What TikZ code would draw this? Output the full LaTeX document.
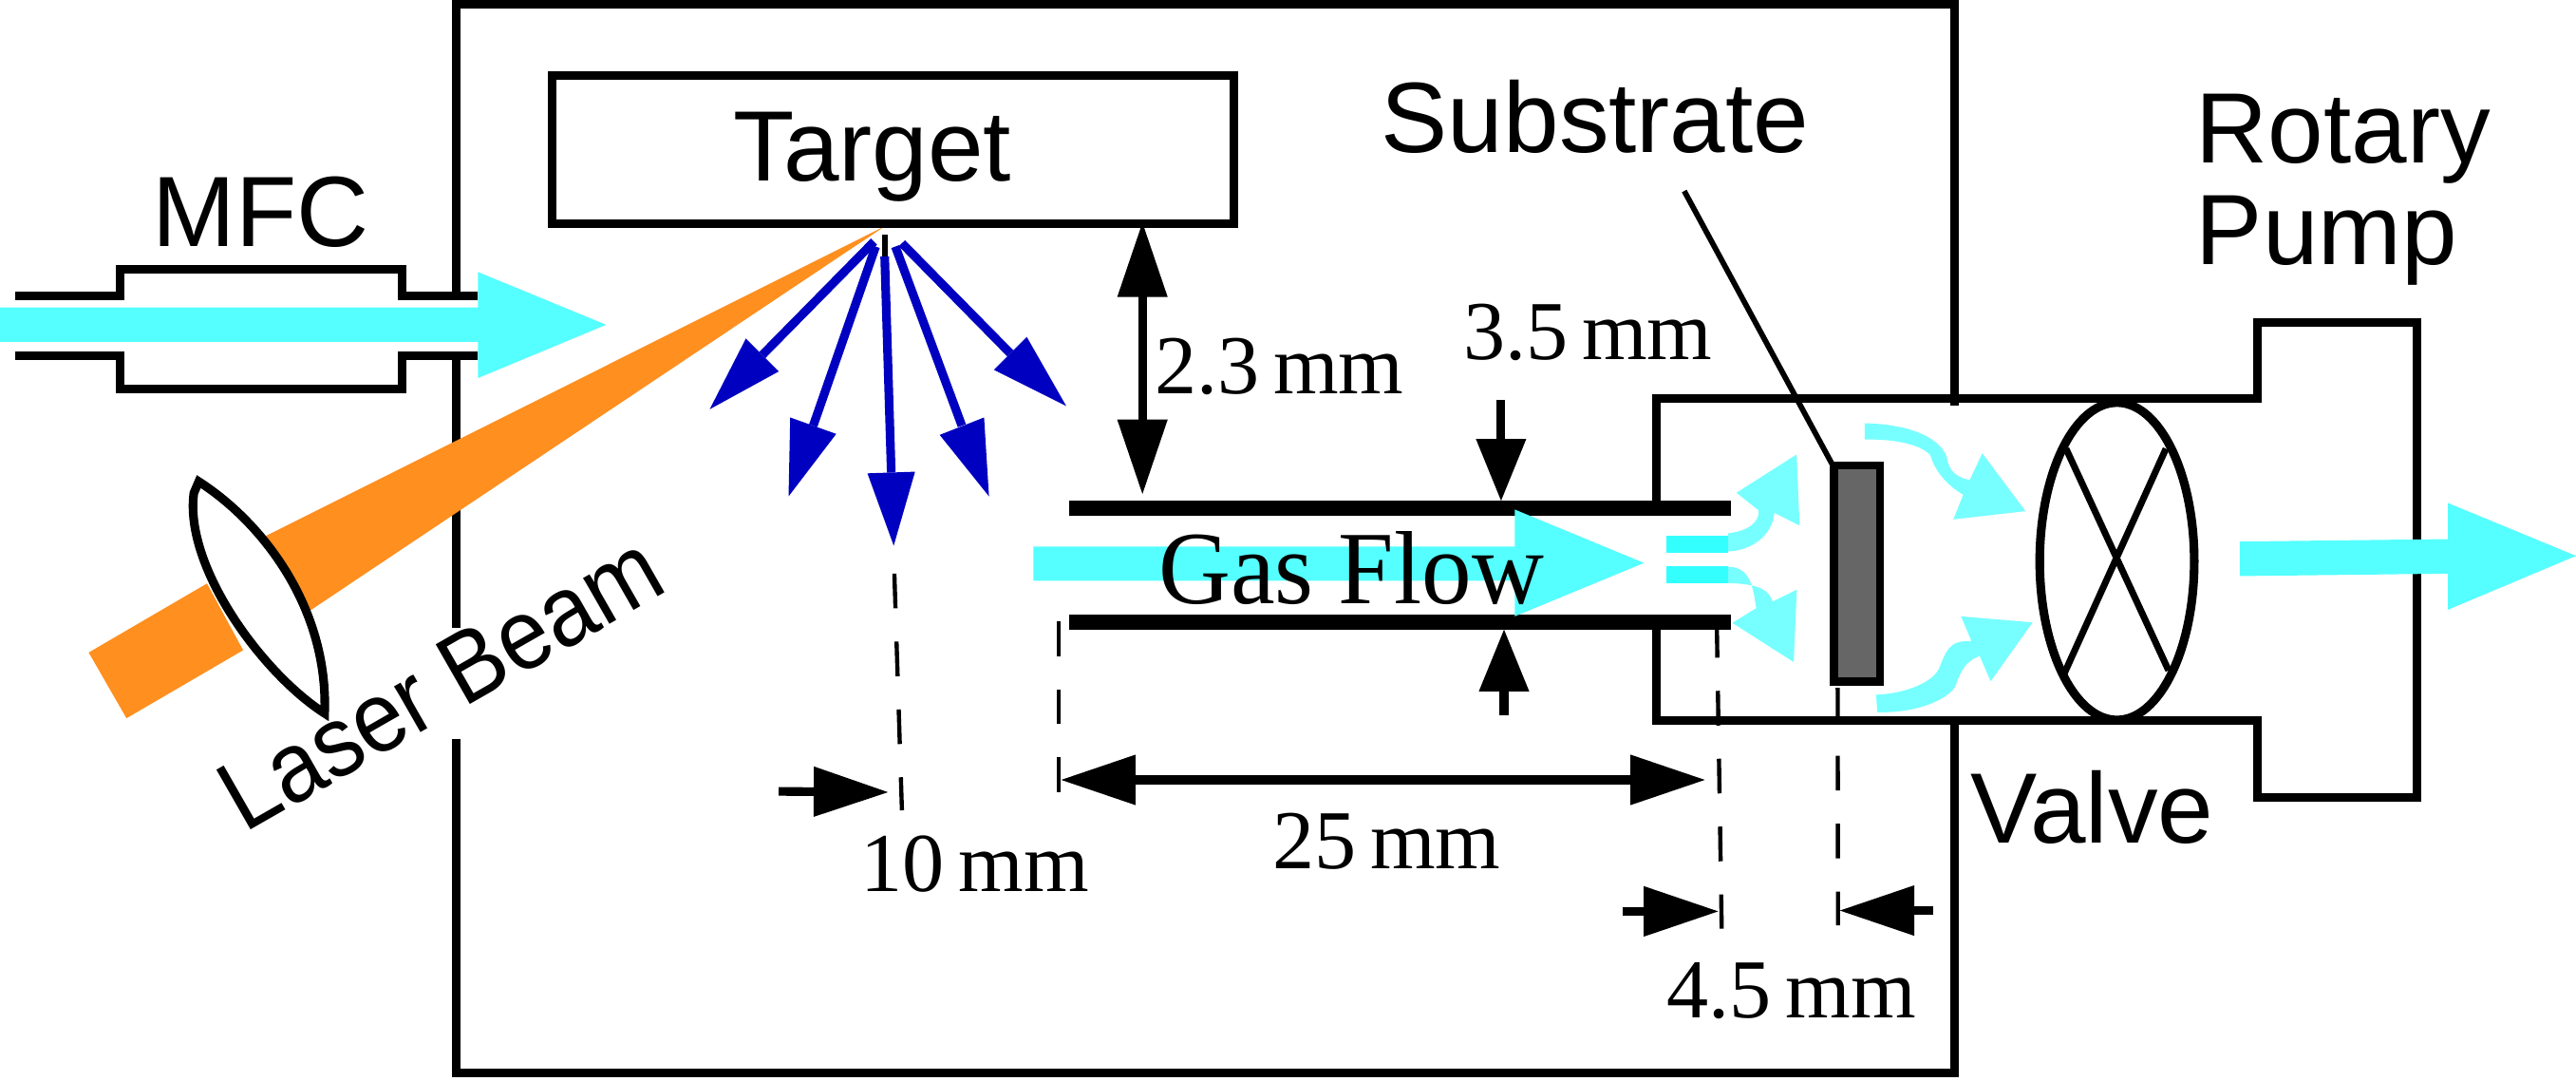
\documentclass[tikz,border=0pt]{standalone}
\usepackage{fontspec}
\setmainfont{Liberation Serif}
\setsansfont{Liberation Sans}
\usetikzlibrary{arrows.meta,shapes.geometric}
\definecolor{flow}{HTML}{55FFFF}
\definecolor{flowlight}{HTML}{77FFFF}
\definecolor{flowbar}{HTML}{33FFFF}
\definecolor{laser}{HTML}{FF8F1F}
\definecolor{plume}{HTML}{0000C0}
\tikzset{
  wall/.style={draw=black,line width=1.5pt},
  plate/.style={draw=black,line width=2.7pt},
  thinline/.style={draw=black,line width=0.95pt},
  dimdash/.style={draw=black,line width=0.72pt,dash pattern=on 6pt off 5.75pt},
  dimarrow/.style={draw=black,line width=1.5pt,-{Triangle[length=13pt,width=8.3pt]}},
  dimshort/.style={draw=black,line width=1.5pt,-{Triangle[length=10.8pt,width=8.3pt]}},
  dimboth/.style={draw=black,line width=1.5pt,{Triangle[length=13pt,width=8.3pt]}-{Triangle[length=13pt,width=8.3pt]}},
  sanslabel/.style={font=\sffamily\fontsize{17.3}{19}\selectfont,inner sep=0pt,anchor=base},
  seriflabel/.style={font=\fontsize{14.5}{16}\selectfont,inner sep=0pt,anchor=base},
}
\begin{document}
\begin{tikzpicture}[x=0.01cm,y=-0.01cm]
\useasboundingbox (0,0) rectangle (1568,657.7);
% chamber
\draw[wall] (277.5,180) -- (277.5,2.5) -- (1189.5,2.5) -- (1189.5,247);
\draw[wall] (277.5,219) -- (277.5,382);
\draw[wall] (277.5,449.5) -- (277.5,653) -- (1189.5,653) -- (1189.5,435.5);
% MFC tube
\draw[wall] (9.5,180) -- (73,180) -- (73,164) -- (245,164) -- (245,180) -- (291,180);
\draw[wall] (9.5,216.5) -- (73,216.5) -- (73,236.5) -- (245,236.5) -- (245,216.5) -- (291,216.5);
% inlet arrow
\fill[flow] (0,187) -- (291,187) -- (291,165.5) -- (369,197.6) -- (291,230) -- (291,208) -- (0,208) -- cycle;
% laser
\fill[laser] (539,137.4) -- (150,332) -- (176,380) -- cycle;
\fill[laser] (126,355) -- (54,397) -- (77,437) -- (148,395.6) -- cycle;
% lens
\filldraw[wall,fill=white] (121,293) .. controls (160,318) and (200,370) .. (197.6,434)
  .. controls (160,410) and (112,345) .. (118,300) -- cycle;
% target
\node[draw=black,line width=1.5pt,minimum width=4.15cm,minimum height=0.9cm,inner sep=0pt] (target) at (543.5,91) {};
\node[sanslabel] (targettext) at (531,110) {Target};
% plume arrows
\coordinate (tick) at (538.5,143);
\draw[thinline] (tick) -- (538.5,156);
\foreach \ta/\tb/\hx/\hy/\lx/\ly/\rx/\ry/\tx/\ty in {
  532/147/464/216/454/206/474/226/432/249,
  533/150/495/259/481/254/509/264/480/302,
  538.5/156/542.5/287.5/528/288/557/287/544/332,
  545/150/585.5/259/572/264.6/599/254/602/302,
  549/148/615/215/625/205/605/225/649/247}{
  \draw[draw=plume,line width=1.5pt] (\ta,\tb) -- (\hx,\hy);
  \fill[plume] (\lx,\ly) -- (\tx,\ty) -- (\rx,\ry) -- cycle;
}
% dashed leaders
\draw[dimdash] (544.4,349) -- (549,493);
\draw[dimdash] (644.3,378) -- (644.3,482);
\draw[dimdash] (1045,379) -- (1048,565);
\draw[dimdash] (1118.6,418.5) -- (1118.8,563);
% plates
\draw[plate] (651,309.3) -- (1053.8,309.3);
\draw[plate] (651,378.7) -- (1053.8,378.7);
% valve housing
\draw[wall] (1372.5,242.6) -- (1008,242.6) -- (1008,314);
\draw[wall] (1008,374) -- (1008,438.4) -- (1372.5,438.4);
% pump box
\draw[wall] (1374,245) -- (1374,196) -- (1471,196) -- (1471,485) -- (1374,485) -- (1374,436);
% main flow
\fill[flow] (629,332.5) -- (922,332.5) -- (922,310) -- (1000.7,342.5) -- (922,375) -- (922,353.3) -- (629,353.3) -- cycle;
\fill[flowbar] (1014.3,325.9) rectangle (1051.8,336.3);
\fill[flowbar] (1014.3,344.4) rectangle (1051.8,355);
% deflected flow arrows
\fill[flowlight] (1051.8,324.5) .. controls (1064,323) and (1071,318) .. (1070.5,310.5) -- (1057,299.8) -- (1093.6,276.5) -- (1095.4,319.7) -- (1080,312)
  .. controls (1079,325) and (1067,335) .. (1051.8,335.5) -- cycle;
\fill[flowlight] (1051.8,344.8) .. controls (1066,345) and (1067,358) .. (1069,370) -- (1054.5,379) -- (1091.8,402.8) -- (1093.7,358.8) -- (1079,366)
  .. controls (1077,360) and (1072,355) .. (1051.8,354.8) -- cycle;
\fill[flowlight] (1135,257.5) .. controls (1160,258) and (1180,265) .. (1185,278) .. controls (1186,287) and (1192,291) .. (1199,292) -- (1206.6,275.8) -- (1232.9,311) -- (1189,316) -- (1195,301)
  .. controls (1185,295) and (1178,287) .. (1175,277) .. controls (1170,271) and (1155,267) .. (1135,267.4) -- cycle;
\fill[flowlight] (1142,422.7) .. controls (1160,422) and (1178,415) .. (1181,405) .. controls (1186,392) and (1189,390) .. (1200,390) -- (1193.7,375) -- (1237.2,378.7) -- (1211.7,414.5) -- (1205,399)
  .. controls (1195,403) and (1193,410) .. (1190,418) .. controls (1183,428) and (1162,434) .. (1142.7,433.3) -- cycle;
% exit arrow
\fill[flow] (1363.4,329.5) -- (1490,328) -- (1490,306) -- (1568,338.2) -- (1490,371) -- (1490,349) -- (1363.4,350.5) -- cycle;
% substrate
\filldraw[draw=black,line width=1.4pt,fill=black!60] (1116.2,283.2) rectangle (1144.4,414.8);
\draw[thinline] (1025.2,116.2) -- (1115,282);
% valve
\node[draw=black,line width=1.5pt,ellipse,minimum width=0.94cm,minimum height=1.93cm,inner sep=0pt] (valve) at (1288.6,341.5) {};
\draw[draw=black,line width=1.15pt] (1257.6,273) -- (1320,407.9);
\draw[draw=black,line width=1.15pt] (1318.4,273) -- (1256.4,410);
% dimension lines
\draw[dimboth] (695.4,135) -- (695.4,301);
\draw[dimshort] (913.7,243.4) -- (913.7,305);
\draw[dimshort] (915.5,435.3) -- (915.5,382.7);
\draw[dimarrow] (474,481.5) -- (541,482);
\draw[dimboth] (645.5,474.5) -- (1038.2,474.5);
\draw[dimarrow] (988,554.5) -- (1046.3,554.5);
\draw[dimarrow] (1176.8,554) -- (1119.5,554);
% labels
\node[sanslabel] (mfc) at (158.8,150) {MFC};
\node[sanslabel] (substrate) at (971,92.5) {Substrate};
\node[sanslabel,anchor=base west] (rotary) at (1336,98.9) {Rotary};
\node[sanslabel,anchor=base west] (pump) at (1336,160.9) {Pump};
\node[sanslabel] (valvetext) at (1273.6,513) {Valve};
\node[sanslabel,rotate=29.8] (laserbeam) at (278.5,433) {\scalebox{0.91}[1]{Laser Beam}};
\node[seriflabel] (d23) at (778.8,239.4) {2.3\,mm};
\node[seriflabel] (d35) at (966.5,218.6) {3.5\,mm};
\node[font=\fontsize{18}{19}\selectfont,inner sep=0pt,anchor=base] (gasflow) at (822.5,367) {\scalebox{0.96}[1]{Gas Flow}};
\node[seriflabel] (d10) at (593.5,542.5) {10\,mm};
\node[seriflabel] (d25) at (844,528.3) {25\,mm};
\node[seriflabel] (d45) at (1090.4,619.5) {4.5\,mm};
\end{tikzpicture}
\end{document}
